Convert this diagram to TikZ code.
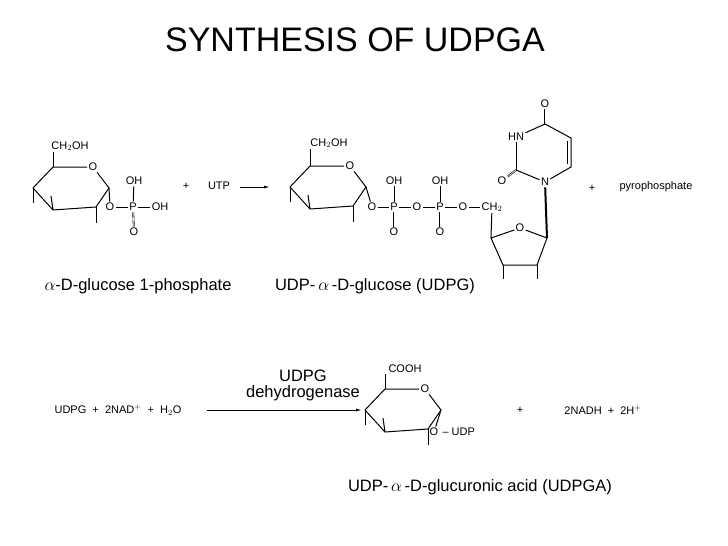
\documentclass[tikz,border=0pt]{standalone}
\usepackage{fontspec}
\setmainfont{Liberation Sans}
\usetikzlibrary{arrows.meta,calc}
\begin{document}
\begin{tikzpicture}[x=1pt,y=-1pt,line width=1pt,
  lbl/.style={inner sep=1pt,font=\fontsize{11}{12}\selectfont},
  big/.style={inner sep=1pt,font=\fontsize{16.5}{18}\selectfont},
  arr/.style={-{Latex[length=6pt,width=3pt]}}]
\useasboundingbox (0,0) rectangle (728,546);
\node[font=\fontsize{34}{38}\selectfont] (title) at (355,40) {SYNTHESIS OF UDPGA};
\newcommand{\myring}[3]{%
\begin{scope}[shift={(#1,#2)}]
 \node[lbl] (#3O) at (40,0) {O};
 \coordinate (#3c5) at (0,0); \coordinate (#3c1) at (56,21);
 \coordinate (#3c2) at (43,40); \coordinate (#3c3) at (0,43); \coordinate (#3c4) at (-20,21);
 \draw (#3O) -- (#3c5) -- (#3c4) -- (#3c3) -- (#3c2) -- (#3c1) -- (#3O);
 \draw (#3c4) -- ++(0,15); \draw (#3c3) -- ++(-2,-14); \draw (#3c2) -- ++(0,16);
\end{scope}}
% ring 1
\myring{53}{167}{a}
\node[lbl] (ach) at (70,146) {CH$_2$OH};
\draw (ac5) -- (ach.south -| ac5);
\node[lbl] (aO1) at (110,207) {O};
\node[lbl] (aP) at (133,207) {P};
\node[lbl] (aOH1) at (160,207) {OH};
\node[lbl] (aOH2) at (134,181) {OH};
\node[lbl] (aO2) at (134,232) {O};
\draw (ac1) -- (aO1); \draw (aO1) -- (aP) -- (aOH1); \draw (aP) -- (aOH2);
\draw[double,line width=0.6pt] (aP) -- (aO2);
\node[lbl] (plus1) at (186,186) {+};
\node[lbl] (utp) at (219,186) {UTP};
\coordinate (arA) at (240,187); \coordinate (arB) at (270,187);
\draw[arr] (arA) -- (arB);
% ring 2
\myring{310}{166}{b}
\node[lbl] (bch) at (329,143) {CH$_2$OH};
\draw (bc5) -- (bch.south -| bc5);
\node[lbl] (bO1) at (372,207) {O};
\node[lbl] (bP1) at (394,207) {P};
\node[lbl] (bO3) at (417,207) {O};
\node[lbl] (bP2) at (440,207) {P};
\node[lbl] (bO4) at (463,207) {O};
\node[lbl] (bCH) at (492,207) {CH$_2$};
\node[lbl] (bOH1) at (394,181) {OH};
\node[lbl] (bOH2) at (440,181) {OH};
\node[lbl] (bOa) at (394,232) {O};
\node[lbl] (bOb) at (440,232) {O};
\draw (bc1) -- (bO1);
\draw (bO1) -- (bP1) -- (bO3) -- (bP2) -- (bO4) -- (bCH);
\draw (bP1) -- (bOH1); \draw (bP2) -- (bOH2);
\draw[double,line width=0.6pt] (bP1) -- (bOa);
\draw[double,line width=0.6pt] (bP2) -- (bOb);
% uracil
\node[lbl] (uO4) at (545,104) {O};
\coordinate (uc4) at (545,124);
\node[lbl] (uN3) at (516,137) {HN};
\coordinate (uc2) at (516,170);
\node[lbl] (uO2) at (502,181) {O};
\node[lbl] (uN1) at (545,182) {N};
\coordinate (uc6) at (571,167); \coordinate (uc5) at (571,138);
\draw[double,line width=0.6pt] (uO4) -- (uc4);
\draw (uc4) -- (uN3); \draw (uN3) -- (uc2);
\draw[double,line width=0.6pt] (uc2) -- (uO2);
\draw (uc2) -- (uN1) -- (uc6) -- (uc5) -- (uc4);
\draw ($(uc6)+(-4,-3)$) -- ($(uc5)+(-4,3)$);
% ribose
\node[lbl] (rO) at (520,228) {O};
\coordinate (r1) at (547,238); \coordinate (r2) at (537,265);
\coordinate (r3) at (503,265); \coordinate (r4) at (491,238);
\draw (rO) -- (r1) -- (r2) -- (r3) -- (r4) -- (rO);
\draw[line width=2pt] (uN1) -- (r1);
\draw (bCH) -- (r4);
\draw (r2) -- ++(0,14); \draw (r3) -- ++(0,14);
\node[lbl] (plus2) at (592,188) {+};
\node[lbl] (pyro) at (656,187) {pyrophosphate};
\node[big] (l1) at (138,286) {$\alpha$-D-glucose 1-phosphate};
\node[big] (l2) at (375,286) {UDP-$\,\alpha$\,-D-glucose (UDPG)};
% bottom reaction
\node[lbl] (react) at (118,410) {UDPG \ + \ 2NAD$^+$ \ + \ H$_2$O};
\coordinate (arC) at (207,410); \coordinate (arD) at (362,410);
\draw[arr] (arC) -- (arD);
\node[big,align=center] (enz) at (303,385) {UDPG\\[-2pt]dehydrogenase};
\myring{385}{389}{c}
\node[lbl] (cch) at (405,369) {COOH};
\draw (cc5) -- (cch.south -| cc5);
\node[lbl] (cOx) at (434,432) {O};
\node[lbl,anchor=west] (cudp) at (441,432) {-- UDP};
\draw (cc1) -- (cOx);
\node[lbl] (plus3) at (520,410) {+};
\node[lbl] (prod) at (603,410) {2NADH \ + \ 2H$^+$};
\node[big] (l3) at (480,487) {UDP-\,$\alpha$\,-D-glucuronic acid (UDPGA)};
\end{tikzpicture}
\end{document}
